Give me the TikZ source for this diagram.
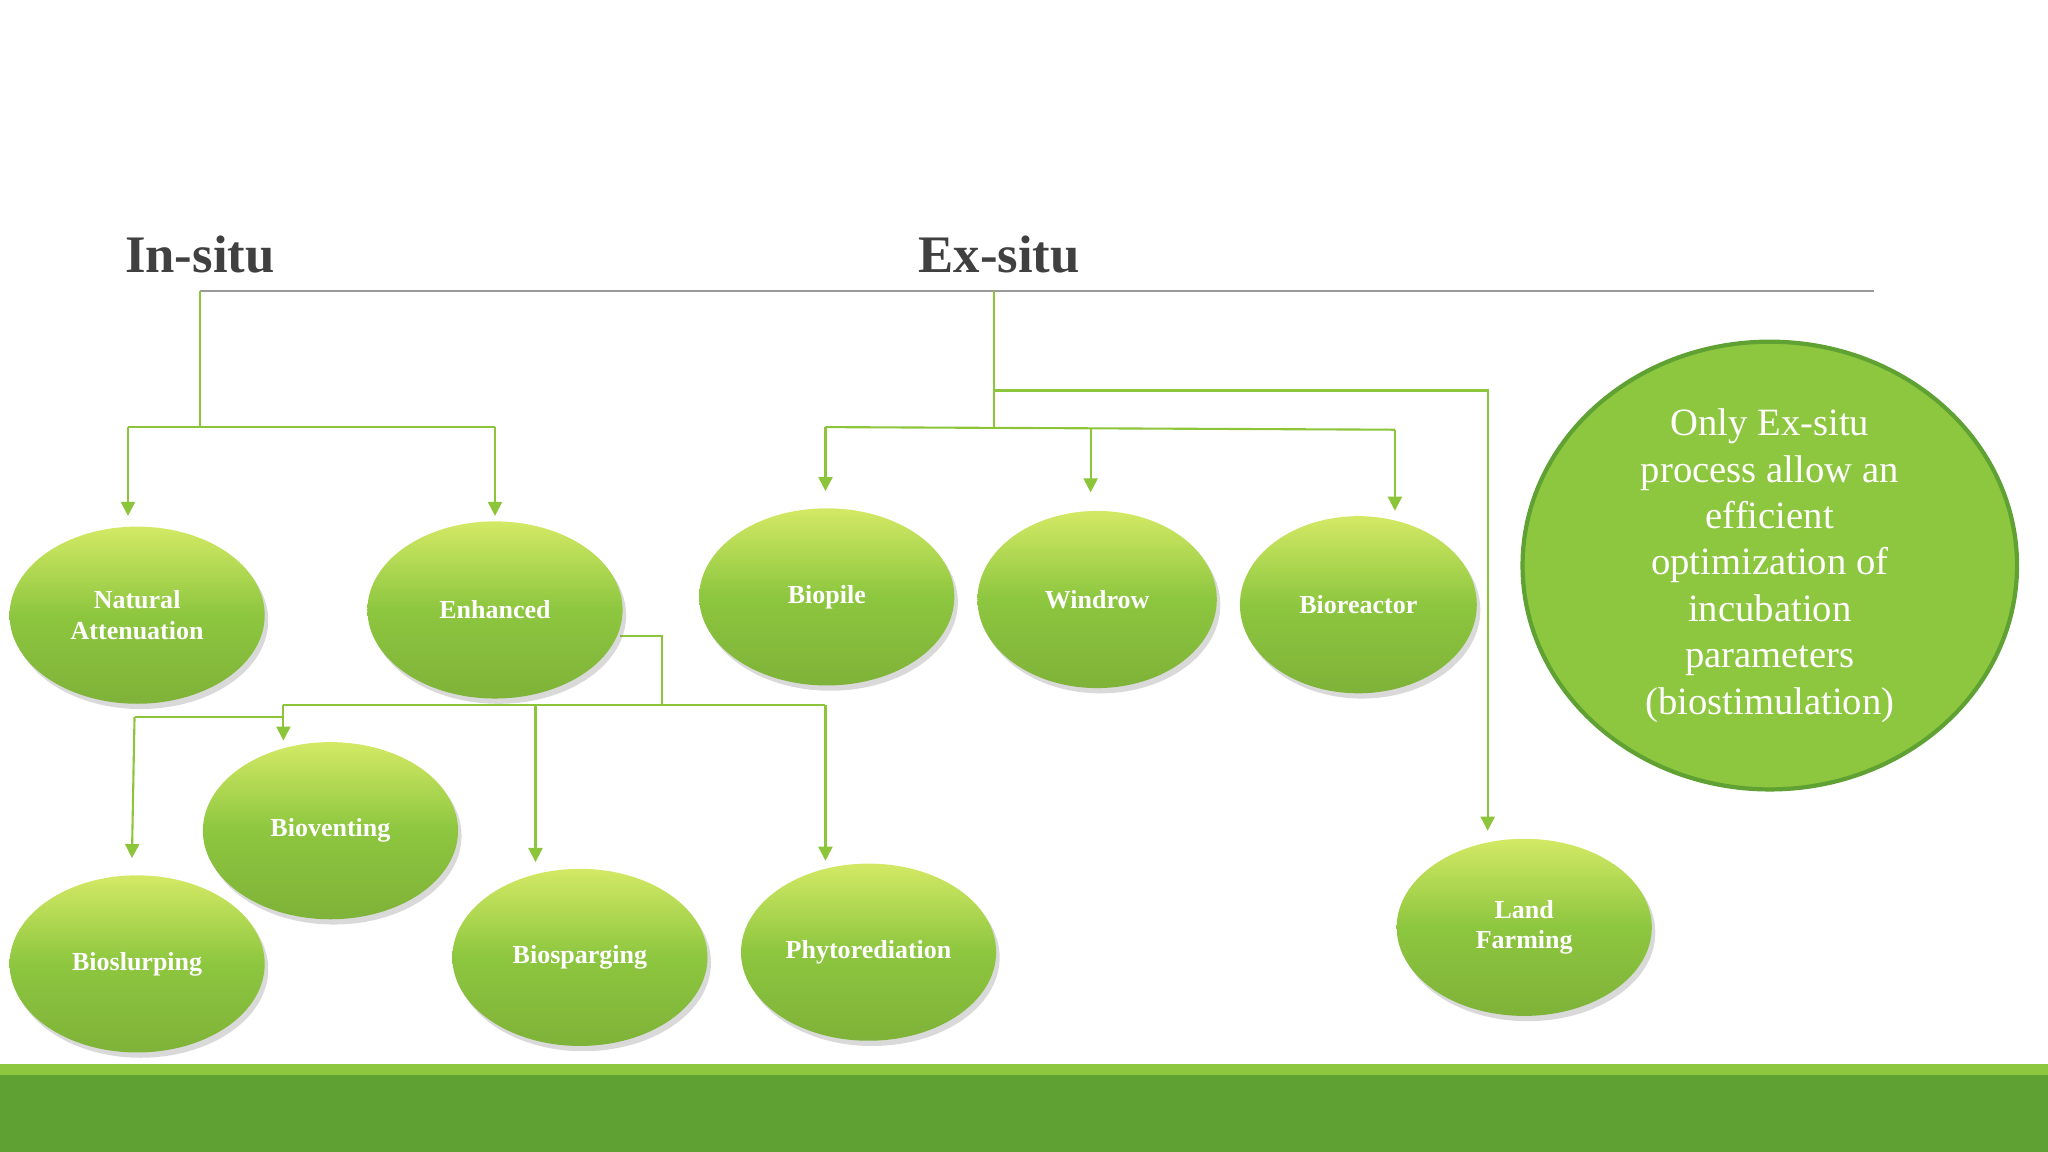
\documentclass[tikz,border=0pt]{standalone}
\usepackage{fontspec}
\setmainfont{Liberation Serif}
\usetikzlibrary{shadows,arrows.meta,shapes.geometric}
\definecolor{lg}{HTML}{8DC63F}
\definecolor{dg}{HTML}{5FA132}
\definecolor{ln}{HTML}{8CC43A}
\begin{document}
\begin{tikzpicture}[x=0.013061cm,y=-0.013061cm,
  ov/.style={ellipse,inner sep=0pt,minimum width=72.6pt,minimum height=50.4pt,top color=lg!55!yellow!70!white,bottom color=lg!90!black,middle color=lg,
    drop shadow={opacity=0.3,shadow xshift=1pt,shadow yshift=-1.5pt},text=white,font=\fontsize{7.4}{8.6}\selectfont\bfseries,align=center},
  con/.style={draw=ln,line width=0.6pt},
  arr/.style={con,-{Triangle[width=4pt,length=4pt]}},
  hd/.style={font=\fontsize{15}{18}\selectfont\bfseries,text=black!75}]
\useasboundingbox (0,0) rectangle (1568,882);
\fill[lg] (0,815) rectangle (1568,823);
\fill[dg] (0,823) rectangle (1568,882);
\node[hd] (ins) at (153,195) {In-situ};
\node[hd] (exs) at (765,195) {Ex-situ};
\draw[black!40,line width=0.5pt] (153,223) -- (1435,223);
% connectors
\coordinate (i0) at (153,223); \coordinate (i1) at (153,327);
\coordinate (il) at (98,327); \coordinate (ir) at (379,327);
\draw[con] (i0) -- (i1);
\draw[con] (il) -- (ir);
\draw[arr] (il) -- (98,395);
\draw[arr] (ir) -- (379,395);
\coordinate (e0) at (761,223); \coordinate (e1) at (761,327);
\draw[con] (e0) -- (e1);
\draw[con] (632,327) -- (1068,329);
\draw[arr] (632,327) -- (632,376);
\draw[arr] (835,328) -- (835,377);
\draw[arr] (1068,329) -- (1068,391);
\draw[arr] (761,299) -- (1139,299) -- (1139,636);
\draw[con] (475,487) -- (507,487) -- (507,540);
\draw[con] (217,540) -- (632,540);
\draw[arr] (217,540) -- (217,567);
\draw[arr] (410,540) -- (410,660);
\draw[arr] (632,540) -- (632,659);
\draw[con] (217,549) -- (103,549);
\draw[arr] (103,549) -- (101,657);
% nodes
\node[ov] (na) at (105,471) {Natural\\Attenuation};
\node[ov] (en) at (379,467) {Enhanced};
\node[ov] (bp) at (633,457) {Biopile};
\node[ov,minimum width=68.1pt] (wr) at (840,459) {Windrow};
\node[ov,minimum width=67.4pt] (br) at (1040,463) {Bioreactor};
\node[ov] (bv) at (253,636) {Bioventing};
\node[ov] (bs) at (105,738) {Bioslurping};
\node[ov] (bg) at (444,733) {Biosparging};
\node[ov] (ph) at (665,729) {Phytorediation};
\node[ov] (lf) at (1167,710) {Land\\Farming};
\node[ellipse,inner sep=0pt,draw=dg,line width=1.2pt,fill=lg,minimum width=140.7pt,minimum height=127.4pt,
  text=white,align=center,font=\fontsize{11}{13.2}\selectfont] (ci) at (1355,433)
  {Only Ex-situ\\process allow an\\efficient\\optimization of\\incubation\\parameters\\(biostimulation)};
\end{tikzpicture}
\end{document}
